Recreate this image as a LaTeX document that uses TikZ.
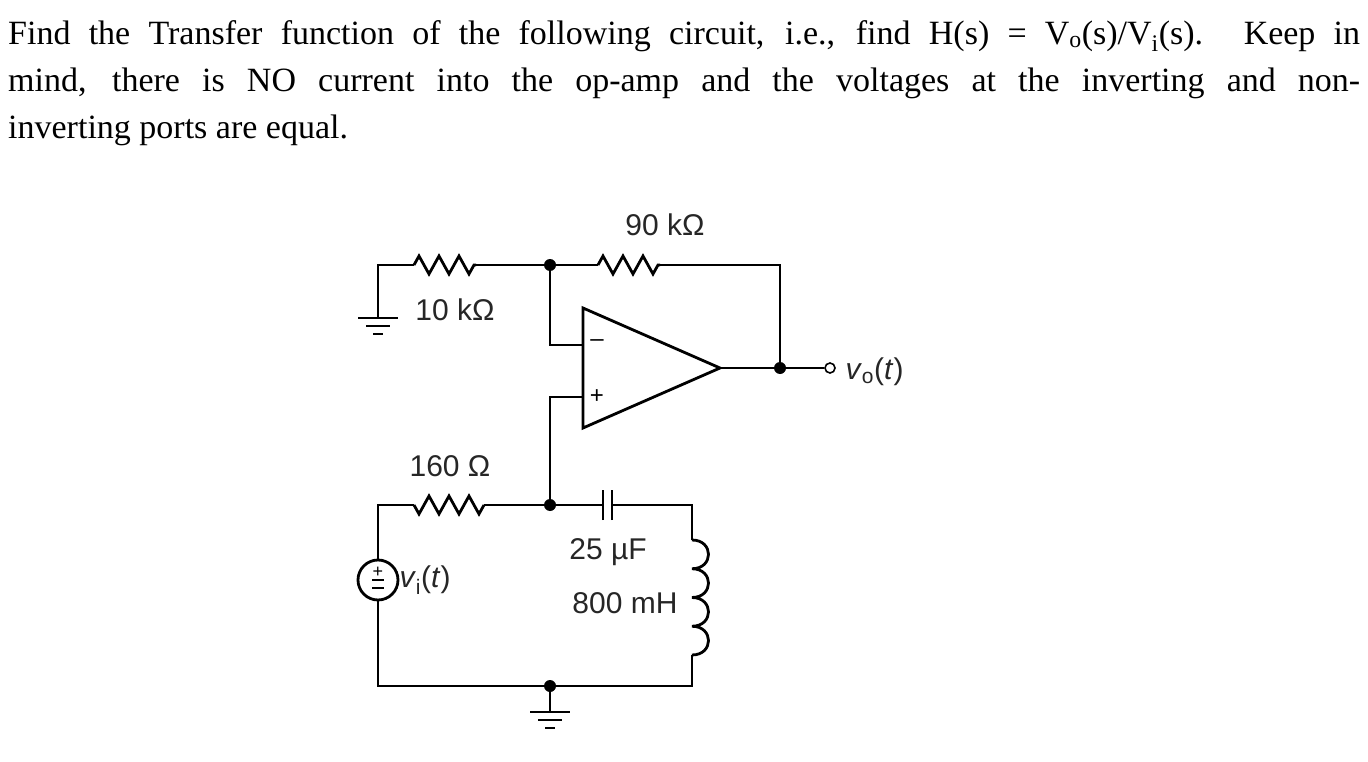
\documentclass[tikz,border=0pt]{standalone}
\usepackage{fontspec}
\setmainfont{Liberation Serif}
\newfontfamily\lblfont{Liberation Sans}
\usetikzlibrary{decorations.pathmorphing}
\tikzset{
  wire/.style={line width=2.8pt},
  res/.style={wire, decorate, decoration={zigzag, segment length=20, amplitude=9}},
  dot/.style={circle, fill=black, inner sep=0pt, minimum size=12pt},
  lbl/.style={font=\lblfont\fontsize{30}{32}\selectfont, text=black!85},
}
\begin{document}
\begin{tikzpicture}[x=1pt,y=-1pt]
       \useasboundingbox (0,0) rectangle (1368,762);
       % question text
       \node[anchor=north west, text width=1352pt, align=justify, inner sep=0pt,
             font=\fontsize{34}{47}\selectfont] (q) at (8,20)
         {Find the Transfer function of the following circuit, i.e., find H(s) = V\textsubscript{o}(s)/V\textsubscript{i}(s). Keep in\linebreak
          mind, there is NO current into the op-amp and the voltages at the inverting and non-\linebreak
          inverting ports are equal.};

       % coordinates of the circuit
       \coordinate (gtop) at (378,265);
       \coordinate (g1) at (378,318);
       \coordinate (r1a) at (414,265);
       \coordinate (r1b) at (476,265);
       \node[dot] (ninv) at (550,265) {};
       \coordinate (r2a) at (598,265);
       \coordinate (r2b) at (660,265);
       \coordinate (fbr) at (780,265);
       \node[dot] (nout) at (780,368) {};
       \node[circle, draw, line width=1.6pt, fill=white, inner sep=0pt, minimum size=10pt] (term) at (830,368) {};
       \coordinate (oa1) at (583,308);
       \coordinate (oa2) at (583,428);
       \coordinate (tip) at (720,368);
       \coordinate (inm) at (583,345);
       \coordinate (inp) at (583,397);
       \coordinate (inmw) at (550,345);
       \coordinate (inpw) at (550,397);
       \node[dot] (nplus) at (550,505) {};
       \coordinate (r3a) at (414,505);
       \coordinate (r3b) at (484,505);
       \coordinate (tl) at (378,505);
       \node[circle, draw, wire, minimum size=40pt, inner sep=0pt] (src) at (378,580) {};
       \coordinate (bl) at (378,686);
       \node[dot] (nbot) at (550,686) {};
       \coordinate (br) at (692,686);
       \coordinate (c1) at (603,505);
       \coordinate (c2) at (612,505);
       \coordinate (tr) at (692,505);
       \coordinate (la) at (692,540);
       \coordinate (lb) at (692,655);
       \coordinate (g2) at (550,712);

       % wires
       \draw[wire] (g1) -- (gtop) -- (r1a);
       \draw[res] (r1a) -- (r1b);
       \draw[wire] (r1b) -- (ninv) -- (r2a);
       \draw[res] (r2a) -- (r2b);
       \draw[wire] (r2b) -- (fbr) -- (nout);
       \draw[wire] (tip) -- (nout) -- (term);
       \draw[wire, line join=miter] (oa1) -- (tip) -- (oa2) -- cycle;
       \draw[wire] (ninv) -- (inmw) -- (inm);
       \draw[wire] (inp) -- (inpw) -- (nplus);
       \node[font=\lblfont\fontsize{24}{24}\selectfont] (minus) at (597,343) {\textendash};
       \node[font=\lblfont\fontsize{24}{24}\selectfont] (plus) at (597,397) {+};
       \draw[wire] (nplus) -- (r3b);
       \draw[res] (r3b) -- (r3a);
       \draw[wire] (r3a) -- (tl) -- (src.north);
       \draw[wire] (src.south) -- (bl) -- (br) -- (lb);
       \draw[wire] (nbot) -- (g2);
       \draw[wire] (nplus) -- (c1);
       \draw[wire] (c2) -- (tr) -- (la);
       \draw[wire] ([yshift=-15]c1) -- ([yshift=15]c1);
       \draw[wire] ([yshift=-15]c2) -- ([yshift=15]c2);
       \draw[wire] (la)
         \foreach \k in {0,1,2,3} { .. controls ++(22,0) and ++(22,0) .. ++(0,28.75) };
       \node[font=\lblfont\fontsize{18}{18}\selectfont, inner sep=0pt] (splus) at (378,572) {+};
       \draw[line width=1.4pt] (372,580) -- (384,580);
       \draw[line width=1.8pt] (372,588) -- (384,588);

       % grounds
       \foreach \g in {g1,g2} {
         \draw[wire] ([xshift=-20]\g) -- ([xshift=20]\g);
         \draw[wire] ([xshift=-12,yshift=-8]\g) -- ([xshift=12,yshift=-8]\g);
         \draw[wire] ([xshift=-5,yshift=-16]\g) -- ([xshift=5,yshift=-16]\g);
       }

       % labels
       \node[lbl] (l10k) at (455,310) {10 kΩ};
       \node[lbl] (l90k) at (665,225) {90 kΩ};
       \node[lbl] (l160) at (450,466) {160 Ω};
       \node[lbl] (l25u) at (608,552) {25 µF};
       \node[lbl] (l800) at (625,603) {800 mH};
       \node[lbl, anchor=west] (lvi) at (396,580) {\textit{v}\textsubscript{i}(\textit{t})};
       \node[lbl, anchor=west] (lvo) at (842,372) {\textit{v}\textsubscript{o}(\textit{t})};
      \end{tikzpicture}
\end{document}
